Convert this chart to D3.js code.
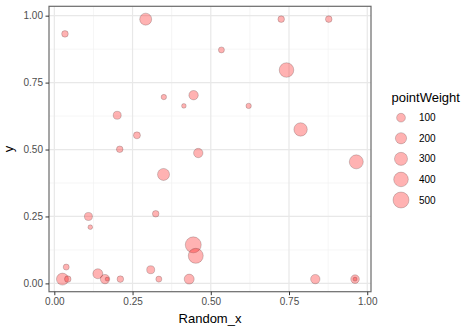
<!DOCTYPE html>
<html>
<head>
<meta charset="utf-8">
<script src="https://cdn.jsdelivr.net/npm/d3@7"></script>
<style>
  body { margin: 0; background: #fff; }
  svg { display: block; font-family: "Liberation Sans", Arial, sans-serif; }
</style>
</head>
<body>
<svg id="chart" width="474" height="330"></svg>
<script>
// ---- data ----
const randomX = [0.034, 0.292, 0.201, 0.264, 0.209, 0.534, 0.350, 0.445, 0.414, 0.621,
                 0.460, 0.725, 0.877, 0.742, 0.787, 0.965, 0.834, 0.961, 0.961, 0.349,
                 0.324, 0.444, 0.452, 0.431, 0.334, 0.109, 0.115, 0.038, 0.026, 0.043,
                 0.139, 0.162, 0.169, 0.211, 0.308];
const yValues = [0.932, 0.987, 0.628, 0.553, 0.501, 0.872, 0.696, 0.703, 0.663, 0.663,
                 0.487, 0.987, 0.987, 0.797, 0.575, 0.454, 0.016, 0.016, 0.016, 0.407,
                 0.260, 0.144, 0.103, 0.016, 0.016, 0.250, 0.210, 0.061, 0.016, 0.016,
                 0.036, 0.016, 0.016, 0.016, 0.051];
const pointWeight = [38, 240, 74, 47, 38, 27, 17, 121, 8, 17,
                     121, 38, 38, 398, 320, 358, 121, 93, 3, 240,
                     38, 500, 426, 145, 27, 74, 8, 27, 240, 38,
                     145, 121, 3, 38, 74];
const xTicks = [0, 0.25, 0.5, 0.75, 1];
const yTicks = [0, 0.25, 0.5, 0.75, 1];
const minorTicks = [0.125, 0.375, 0.625, 0.875];
const legendBreaks = [100, 200, 300, 400, 500];

const points = randomX.map((x, i) => ({ x, y: yValues[i], w: pointWeight[i] }));

const svg = d3.select("#chart");
const panel = { left: 49, right: 371, top: 6.3, bottom: 291.7 };

const x = d3.scaleLinear().domain([-0.017, 1.012]).range([panel.left, panel.right]);
const y = d3.scaleLinear().domain([-0.031, 1.035]).range([panel.bottom, panel.top]);
const r = d3.scaleSqrt().domain([0, 500]).range([1.5, 8]);

// background
svg.append("rect").attr("x", panel.left).attr("y", panel.top)
  .attr("width", panel.right - panel.left).attr("height", panel.bottom - panel.top)
  .attr("fill", "#fff");

// grid
const grid = svg.append("g");
minorTicks.forEach(t => {
  grid.append("line").attr("x1", x(t)).attr("x2", x(t)).attr("y1", panel.top).attr("y2", panel.bottom)
    .attr("stroke", "#f0f0f0").attr("stroke-width", 0.7);
  grid.append("line").attr("y1", y(t)).attr("y2", y(t)).attr("x1", panel.left).attr("x2", panel.right)
    .attr("stroke", "#f0f0f0").attr("stroke-width", 0.7);
});
xTicks.forEach(t => {
  grid.append("line").attr("x1", x(t)).attr("x2", x(t)).attr("y1", panel.top).attr("y2", panel.bottom)
    .attr("stroke", "#e8e8e8").attr("stroke-width", 1.2);
});
yTicks.forEach(t => {
  grid.append("line").attr("y1", y(t)).attr("y2", y(t)).attr("x1", panel.left).attr("x2", panel.right)
    .attr("stroke", "#e8e8e8").attr("stroke-width", 1.2);
});

// points
svg.append("g").selectAll("circle").data(points).join("circle")
  .attr("cx", d => x(d.x)).attr("cy", d => y(d.y)).attr("r", d => r(d.w))
  .attr("fill", "rgba(255,0,0,0.3)")
  .attr("stroke", "rgba(0,0,0,0.3)").attr("stroke-width", 0.6);

// panel border
svg.append("rect").attr("x", panel.left).attr("y", panel.top)
  .attr("width", panel.right - panel.left).attr("height", panel.bottom - panel.top)
  .attr("fill", "none").attr("stroke", "#6a6a6a").attr("stroke-width", 1.2);

// axes
const fmt = d3.format(".2f");
const xAxis = svg.append("g").attr("transform", `translate(0,${panel.bottom})`)
  .call(d3.axisBottom(x).tickValues(xTicks).tickFormat(fmt).tickSize(3.5).tickPadding(3));
const yAxis = svg.append("g").attr("transform", `translate(${panel.left},0)`)
  .call(d3.axisLeft(y).tickValues(yTicks).tickFormat(fmt).tickSize(3.5).tickPadding(2.5));
[xAxis, yAxis].forEach(a => {
  a.select(".domain").remove();
  a.selectAll(".tick line").attr("stroke", "#333").attr("stroke-width", 1);
  a.selectAll(".tick text").attr("fill", "#4d4d4d").style("font-size", "10px")
    .style("font-family", "Liberation Sans, Arial, sans-serif");
});

// axis titles
svg.append("text").attr("x", (panel.left + panel.right) / 2).attr("y", 322.5)
  .attr("text-anchor", "middle").style("font-size", "13px").attr("fill", "#000").text("Random_x");
svg.append("text").attr("transform", `translate(12.5,${(panel.top + panel.bottom) / 2}) rotate(-90)`)
  .attr("text-anchor", "middle").style("font-size", "13px").attr("fill", "#000").text("y");

// legend
const lg = svg.append("g");
lg.append("text").attr("x", 391.5).attr("y", 101.5).style("font-size", "13px").attr("fill", "#000")
  .text("pointWeight");
const ly = d3.scalePoint().domain(legendBreaks).range([117.7, 200]);
const items = lg.selectAll("g.item").data(legendBreaks).join("g").attr("class", "item");
items.append("circle").attr("cx", 401).attr("cy", d => ly(d)).attr("r", d => r(d))
  .attr("fill", "rgba(255,0,0,0.3)").attr("stroke", "rgba(0,0,0,0.3)").attr("stroke-width", 0.6);
items.append("text").attr("x", 419).attr("y", d => ly(d) + 3.6).style("font-size", "10px")
  .attr("fill", "#000").text(d => d);
</script>
</body>
</html>
